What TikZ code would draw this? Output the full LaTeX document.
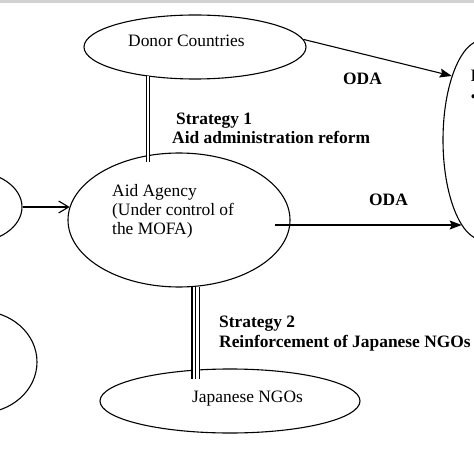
\documentclass[tikz,border=0pt]{standalone}
\usepackage{fontspec}
\setmainfont{Liberation Serif}
\usetikzlibrary{shapes.geometric,arrows.meta}
\begin{document}
\begin{tikzpicture}[x=1bp,y=-1bp,
  oval/.style={ellipse,draw,line width=1.1bp,inner sep=0pt},
  lbl/.style={font=\fontsize{17.4bp}{19.5bp}\selectfont,inner sep=0pt,anchor=base west},
  blbl/.style={font=\fontsize{17.4bp}{19.5bp}\selectfont\bfseries,inner sep=0pt,anchor=base west},
  conn/.style={line width=1.1bp},
  filledtip/.style={-{Stealth[length=12bp,width=9bp,inset=2bp]}},
  opentip/.style={-{Straight Barb[length=10bp,width=12bp]}},
  dbl/.style={line width=1bp,double,double distance=1.8bp},
  triple/.style={line width=1.3bp,
    preaction={draw,black,line width=8.8bp},
    preaction={draw,white,line width=6.2bp}}]
\useasboundingbox (0,0) rectangle (474,474);
\fill[gray!35] (0,0) rectangle (474,2.7);

% ellipses
\node[oval,minimum width=222bp,minimum height=64bp] (donor) at (195,47) {};
\node[oval,minimum width=222bp,minimum height=134bp] (aid) at (179,220) {};
\node[oval,minimum width=260bp,minimum height=64bp] (ngo) at (230,401) {};
\node[oval,minimum width=80bp,minimum height=200bp] (recip) at (483,140) {};
\node[oval,minimum width=104bp,minimum height=72bp] (leftA) at (-30,207) {};
\node[oval,minimum width=114bp,minimum height=102bp] (leftB) at (-20,362) {};

% texts
\node[lbl] (tDonor) at (128,47) {Donor Countries};
\node[lbl] (tAid1) at (112,197) {Aid Agency};
\node[lbl] (tAid2) at (112,216) {(Under control of};
\node[lbl] (tAid3) at (112,235) {the MOFA)};
\node[lbl] (tNgo) at (192,402) {Japanese NGOs};
\node[lbl] (tRecip) at (470.5,82) {D};
\node[lbl] (tBullet) at (470.5,103) {•};

\node[blbl] (oda1) at (343,85) {ODA};
\node[blbl] (oda2) at (369,206) {ODA};
\node[blbl] (s1a) at (176,125) {Strategy 1};
\node[blbl] (s1b) at (172,144) {Aid administration reform};
\node[blbl] (s2a) at (219,327) {Strategy 2};
\node[blbl] (s2b) at (219,347) {Reinforcement of Japanese NGOs};

% connectors
\coordinate (odaStart) at (275,225);
\draw[conn,filledtip] (donor.4) -- (recip.116);
\draw[conn,filledtip] (odaStart) -- (odaStart -| recip.256.4);
\draw[conn,opentip] (leftA.east) -- (leftA.east -| aid.173);
\draw[dbl] (donor.212) -- ++(0,86);
\draw[triple] (aid.284.4) -- ++(0,92);
\end{tikzpicture}
\end{document}
